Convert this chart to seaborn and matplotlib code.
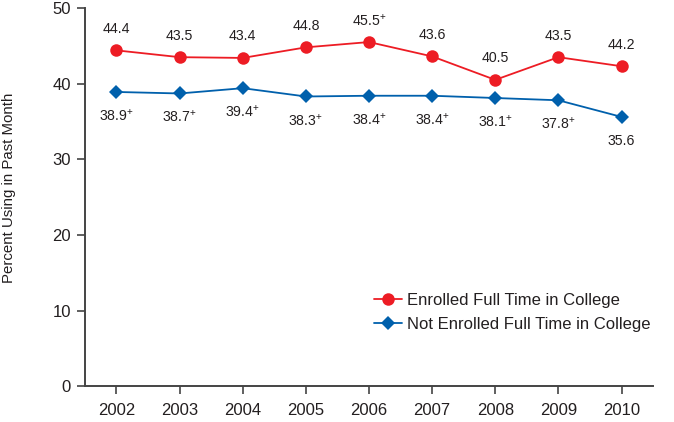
import matplotlib
matplotlib.use("Agg")
import matplotlib.pyplot as plt
import seaborn as sns
import pandas as pd

years = [2002, 2003, 2004, 2005, 2006, 2007, 2008, 2009, 2010]
enrolled = [44.4, 43.5, 43.4, 44.8, 45.5, 43.6, 40.5, 43.5, 42.3]
not_enrolled = [38.9, 38.7, 39.4, 38.3, 38.4, 38.4, 38.1, 37.8, 35.6]
enrolled_labels = ["44.4", "43.5", "43.4", "44.8", "45.5$^{+}$", "43.6", "40.5", "43.5", "44.2"]
not_enrolled_labels = ["38.9$^{+}$", "38.7$^{+}$", "39.4$^{+}$", "38.3$^{+}$", "38.4$^{+}$",
                       "38.4$^{+}$", "38.1$^{+}$", "37.8$^{+}$", "35.6"]
series_names = ["Enrolled Full Time in College", "Not Enrolled Full Time in College"]
y_ticks = [0, 10, 20, 30, 40, 50]

sns.set_theme(style="white")
plt.rcParams['font.family'] = ['Liberation Sans', 'DejaVu Sans']
plt.rcParams['mathtext.fontset'] = 'custom'
plt.rcParams['mathtext.rm'] = 'Liberation Sans'
plt.rcParams['mathtext.it'] = 'Liberation Sans'
plt.rcParams['mathtext.bf'] = 'Liberation Sans'

df = pd.DataFrame({
    "year": years * 2,
    "value": enrolled + not_enrolled,
    "group": [series_names[0]] * len(years) + [series_names[1]] * len(years),
})

red = "#ED1C24"
blue = "#0060AC"
txt = "#231F20"
axc = "#444444"

fig = plt.figure(figsize=(6.74, 4.22), dpi=100)
ax = fig.add_axes([0.126, 0.085, 0.843, 0.896])

sns.lineplot(data=df, x="year", y="value", hue="group", style="group",
             markers={series_names[0]: "o", series_names[1]: "D"},
             dashes=False, palette={series_names[0]: red, series_names[1]: blue},
             markeredgewidth=0, linewidth=1.3, ax=ax)
for line in ax.get_lines():
    if line.get_marker() == "o":
        line.set_markersize(9)
    elif line.get_marker() == "D":
        line.set_markersize(7.5)

for x, y, s in zip(years, enrolled, enrolled_labels):
    ax.annotate(s, (x, y), xytext=(0, 15.5), textcoords="offset points",
                ha="center", va="center", fontsize=10.2, color=txt)
for x, y, s in zip(years, not_enrolled, not_enrolled_labels):
    ax.annotate(s, (x, y), xytext=(0, -17), textcoords="offset points",
                ha="center", va="center", fontsize=10.2, color=txt)

ax.set_xlim(2001.5, 2010.5)
ax.set_ylim(0, 50)
ax.set_xticks(years)
ax.set_xticklabels([str(y) for y in years])
ax.set_yticks(y_ticks)
ax.set_xlabel("")
ax.set_ylabel("Percent Using in Past Month", fontsize=10.8, color=txt)
ax.yaxis.set_label_coords(-0.121, 0.525)

for side in ["top", "right"]:
    ax.spines[side].set_visible(False)
for side in ["left", "bottom"]:
    ax.spines[side].set_color(axc)
    ax.spines[side].set_linewidth(1.4)
ax.tick_params(axis="both", which="major", left=True, bottom=True, direction="out",
               length=6, width=1.2, color=axc, labelsize=12, labelcolor=txt)
ax.tick_params(axis="y", pad=4)
ax.tick_params(axis="x", pad=6)

handles, labels = ax.get_legend_handles_labels()
ax.legend(handles, labels, loc="upper left", bbox_to_anchor=(0.508, 0.246),
          frameon=False, fontsize=12, handlelength=1.7, handletextpad=0.3,
          labelspacing=0.55, borderpad=0, borderaxespad=0, labelcolor=txt)

fig.savefig("out.png", dpi=100)
